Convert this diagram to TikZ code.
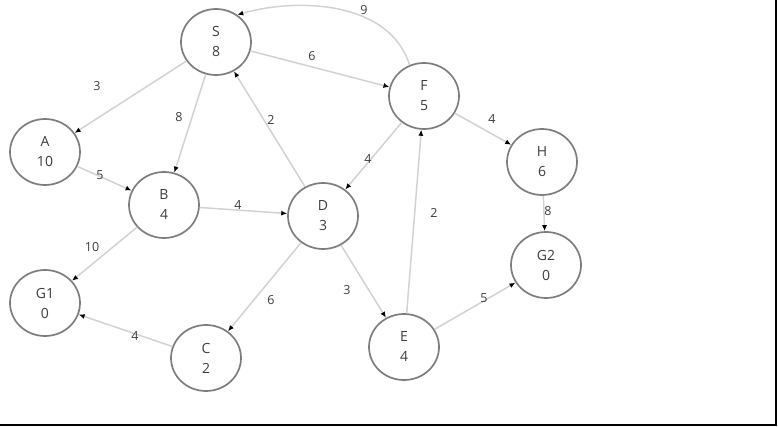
\documentclass[tikz,border=0pt]{standalone}
\usepackage{fontspec}
\setmainfont{Open Sans}
\usetikzlibrary{shapes.geometric,arrows.meta}
\definecolor{nodeline}{RGB}{125,125,125}
\definecolor{edgeline}{RGB}{210,210,210}
\definecolor{txt}{RGB}{60,60,60}
\begin{document}
\begin{tikzpicture}[x=1pt,y=-1pt,
  vtx/.style={ellipse,draw=nodeline,line width=1.7pt,minimum width=70pt,minimum height=66pt,inner sep=0pt,
    align=center,text=txt,font=\fontsize{14}{20}\selectfont},
  edge/.style={draw=edgeline,line width=1.5pt,-{Latex[length=6pt,width=5pt,color=black]}},
  lbl/.style={text=txt,font=\fontsize{12.5}{15}\selectfont,inner sep=0pt}]
\useasboundingbox (0,0) rectangle (778,427);
\draw[line width=2pt] (0,424.5) -- (776,424.5) -- (776,0);
\node[vtx] (S) at (216,42) {S\\8};
\node[vtx] (A) at (45,152) {A\\10};
\node[vtx] (B) at (164,205) {B\\4};
\node[vtx] (D) at (323,216) {D\\3};
\node[vtx] (F) at (424,96) {F\\5};
\node[vtx] (G1) at (45,303) {G1\\0};
\node[vtx] (C) at (206,358) {C\\2};
\node[vtx] (E) at (404,347) {E\\4};
\node[vtx] (H) at (542,162) {H\\6};
\node[vtx] (G2) at (546,265) {G2\\0};
\draw[edge] (S) -- (A);
\draw[edge] (S) -- (B);
\draw[edge] (S) -- (F);
\draw[edge] (F.115) .. controls (390,2) and (300,-3) .. (S.52);
\draw[edge] (D) -- (S);
\draw[edge] (A) -- (B);
\draw[edge] (B) -- (D);
\draw[edge] (F) -- (D);
\draw[edge] (F) -- (H);
\draw[edge] (B) -- (G1);
\draw[edge] (D) -- (C);
\draw[edge] (D) -- (E);
\draw[edge] (E) -- (F);
\draw[edge] (C) -- (G1);
\draw[edge] (H) -- (G2);
\draw[edge] (E) -- (G2);
\node[lbl] (l1) at (97,86) {3};
\node[lbl] (l2) at (179,117) {8};
\node[lbl] (l3) at (312,56) {6};
\node[lbl] (l4) at (364,10) {9};
\node[lbl] (l5) at (271,120) {2};
\node[lbl] (l6) at (100,175) {5};
\node[lbl] (l7) at (238,205) {4};
\node[lbl] (l8) at (368,159) {4};
\node[lbl] (l9) at (492,119) {4};
\node[lbl] (l10) at (92,247) {10};
\node[lbl] (l11) at (271,300) {6};
\node[lbl] (l12) at (347,290) {3};
\node[lbl] (l13) at (434,213) {2};
\node[lbl] (l14) at (135,336) {4};
\node[lbl] (l15) at (548,211) {8};
\node[lbl] (l16) at (484,298) {5};
\end{tikzpicture}
\end{document}
